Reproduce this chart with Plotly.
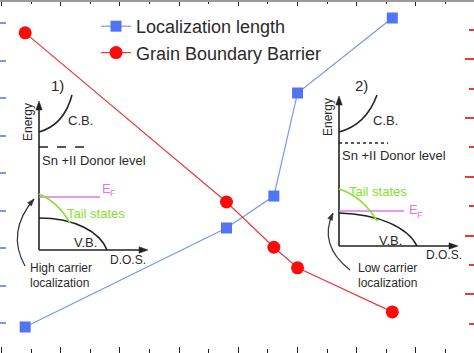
import math
import plotly.graph_objects as go

W, H = 474, 353

# ---- data ----
x_vals = [4, 38, 46, 50, 66]
loc_length = [4.47, 17.67, 21.93, 35.67, 45.67]
gb_barrier = [0.545, 0.257, 0.180, 0.145, 0.070]
series_names = ["Localization length", "Grain Boundary Barrier"]

BLUE_M = "#5174f5"
BLUE_L = "#7b95f0"
RED_M = "#ff0a0a"
RED_L = "#e83a3a"
TXT = "#2a2a2a"
GREEN = "#86e02c"
PINK = "#dd77e8"

fig = go.Figure()
fig.add_trace(go.Scatter(x=x_vals, y=loc_length, name=series_names[0], mode="lines+markers",
                         line=dict(color=BLUE_L, width=1.2),
                         marker=dict(symbol="square", size=11, color=BLUE_M), yaxis="y"))
fig.add_trace(go.Scatter(x=x_vals, y=gb_barrier, name=series_names[1], mode="lines+markers",
                         line=dict(color=RED_L, width=1.2),
                         marker=dict(symbol="circle", size=13, color=RED_M), yaxis="y2"))


def P(x, y):
    return x / W, 1 - y / H


def ps(x, y):
    a, b = P(x, y)
    return f"{a:.5f},{b:.5f}"


shapes = []
annotations = []


def path(d_pts, color="#222", width=1.6, dash=None, fill=None):
    s = ""
    for cmd, pts in d_pts:
        s += cmd + " " + " ".join(ps(*p) for p in pts) + " "
    ln = dict(color=color, width=width)
    if dash:
        ln["dash"] = dash
    shapes.append(dict(type="path", xref="paper", yref="paper", path=s.strip(), line=ln,
                       fillcolor=fill if fill else "rgba(0,0,0,0)"))


def line(x0, y0, x1, y1, color="#222", width=1.6, dash=None):
    a0, b0 = P(x0, y0)
    a1, b1 = P(x1, y1)
    ln = dict(color=color, width=width)
    if dash:
        ln["dash"] = dash
    shapes.append(dict(type="line", xref="paper", yref="paper", x0=a0, y0=b0, x1=a1, y1=b1, line=ln))


def head(xh, yh, xf, yf, color="#222", length=9, half=3.2):
    dx, dy = xh - xf, yh - yf
    n = math.hypot(dx, dy)
    ux, uy = dx / n, dy / n
    bx, by = xh - ux * length, yh - uy * length
    p1 = (bx - uy * half, by + ux * half)
    p2 = (bx + uy * half, by - ux * half)
    path([("M", [(xh, yh)]), ("L", [p1]), ("L", [p2]), ("Z", [])], color=color, width=0.5, fill=color)


def text(x, y, t, size=13, color=TXT, angle=0, xanchor="center"):
    a, b = P(x, y)
    annotations.append(dict(x=a, y=b, xref="paper", yref="paper", text=t, showarrow=False,
                            font=dict(size=size, color=color, family="Liberation Sans, Arial"),
                            textangle=angle, xanchor=xanchor, yanchor="middle"))


def inset(ox, ax_bottom, ax_top, ax_right, cb, dash_y, dash_x1, dash_style,
          tail, ef_y, ef_x1, vb, label, label_xy, tail_lbl, ef_lbl, vb_lbl, dos_lbl,
          curl, curl_text, donor_xy):
    line(ox, ax_bottom, ox, ax_top + 6, width=1.6)
    head(ox, ax_top, ox, ax_bottom)
    line(ox, ax_bottom, ax_right - 6, ax_bottom, width=1.6)
    head(ax_right, ax_bottom, ox, ax_bottom)
    path([("M", [cb[0]]), ("Q", [cb[1], cb[2]])])
    text(cb[2][0] + 8, cb[0][1] - 11, "C.B.", 13)
    line(ox, dash_y, dash_x1, dash_y, width=1.5, dash=dash_style)
    text(donor_xy[0], donor_xy[1], "Sn +II Donor level", 13, xanchor="left")
    line(ox, ef_y, ef_x1, ef_y, color=PINK, width=1.5)
    text(ef_lbl[0], ef_lbl[1], "E", 13, color=PINK, xanchor="left")
    text(ef_lbl[0] + 8, ef_lbl[1] + 5, "F", 9, color=PINK, xanchor="left")
    path([("M", [vb[0]]), ("C", [vb[1], vb[2], vb[3]])])
    text(vb_lbl[0], vb_lbl[1], "V.B.", 13)
    path([("M", [tail[0]]), ("Q", [tail[1], tail[2]])], color=GREEN, width=1.6)
    text(tail_lbl[0], tail_lbl[1], "Tail states", 13, color=GREEN)
    text(dos_lbl[0], dos_lbl[1], "D.O.S.", 12)
    text(ox - 11, ax_top + 21, "Energy", 12, angle=-90)
    text(label_xy[0], label_xy[1], label, 15)
    path([("M", [curl[0]]), ("Q", [curl[1], curl[2]])], color="#333", width=1.2)
    head(curl[2][0], curl[2][1], curl[1][0], curl[1][1], color="#333", length=7, half=2.6)
    text(curl_text[0], curl_text[1], curl_text[2], 12, xanchor="left")
    text(curl_text[0], curl_text[1] + 15, "localization", 12, xanchor="left")


inset(ox=39, ax_bottom=250, ax_top=101, ax_right=148,
      cb=[(39, 132), (64, 125), (72, 95)], dash_y=147, dash_x1=93, dash_style="dash",
      tail=[(39, 194), (58, 202), (70, 223)], ef_y=197, ef_x1=100,
      vb=[(39, 218), (75, 218), (100, 232), (107, 250)],
      label="1)", label_xy=(57, 86), tail_lbl=(96, 213), ef_lbl=(100, 188), vb_lbl=(85, 242),
      dos_lbl=(128, 260), curl=[(25, 266), (6, 232), (34, 199)],
      curl_text=(28, 268, "High carrier"), donor_xy=(40, 161))

inset(ox=339, ax_bottom=246, ax_top=96, ax_right=458,
      cb=[(339, 132), (366, 125), (377, 95)], dash_y=143, dash_x1=388, dash_style="dot",
      tail=[(339, 189), (362, 196), (377, 221)], ef_y=211, ef_x1=404,
      vb=[(339, 213), (380, 214), (408, 228), (417, 246)],
      label="2)", label_xy=(361, 86), tail_lbl=(378, 191), ef_lbl=(407, 210), vb_lbl=(390, 240),
      dos_lbl=(444, 255), curl=[(350, 270), (318, 245), (333, 213)],
      curl_text=(356, 268, "Low carrier"), donor_xy=(340, 155))

shapes.append(dict(type="line", xref="paper", yref="paper", x0=0, x1=1, y0=1 - 1 / H, y1=1 - 1 / H,
                   line=dict(color="#9a9a9a", width=2)))

fig.update_layout(
    width=W, height=H, margin=dict(l=0, r=0, t=0, b=0),
    plot_bgcolor="white", paper_bgcolor="white",
    showlegend=True,
    legend=dict(x=96 / W, y=1 - 8 / H, xanchor="left", yanchor="top", bgcolor="rgba(0,0,0,0)",
                font=dict(size=18, color=TXT, family="Liberation Sans, Arial"),
                tracegroupgap=0, itemwidth=30),
    xaxis=dict(range=[-0.25, 79.8], dtick=10, tick0=0, ticks="inside", ticklen=6, tickwidth=1,
               tickcolor="#222", mirror="ticks", showticklabels=False, showgrid=False,
               zeroline=False, showline=False,
               minor=dict(dtick=5, ticks="inside", ticklen=4, tickcolor="#222", showgrid=False)),
    yaxis=dict(range=[1.0, 48.07], dtick=5, tick0=0, ticks="inside", ticklen=6, tickwidth=1.5,
               tickcolor=BLUE_L, showticklabels=False, showgrid=False, zeroline=False,
               showline=False),
    yaxis2=dict(range=[0, 0.6009], dtick=0.1, tick0=0, ticks="inside", ticklen=9, tickwidth=1.5,
                tickcolor=RED_L, showticklabels=False, showgrid=False, zeroline=False,
                showline=False, overlaying="y", side="right",
                minor=dict(dtick=0.05, ticks="inside", ticklen=5, tickcolor=RED_L, showgrid=False)),
    shapes=shapes, annotations=annotations,
)

fig.write_html("out.html")
